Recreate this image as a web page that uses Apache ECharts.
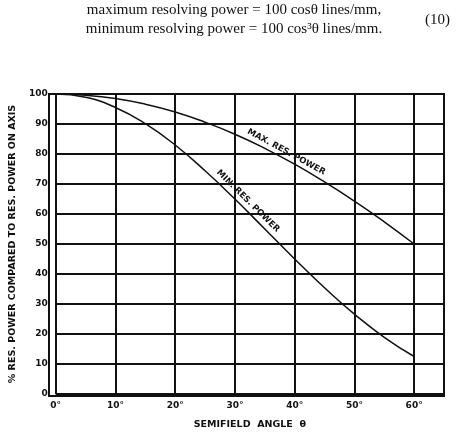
<!DOCTYPE html>
<html><head><meta charset="utf-8">
<script src="https://cdn.jsdelivr.net/npm/echarts@6/dist/echarts.min.js"></script>
<style>html,body{margin:0;padding:0;background:#fff}#c{width:468px;height:435px}</style>
</head><body><div id="c"></div>
<script>
const angles = [0,5,10,15,20,25,30,35,40,45,50,55,60];
const maxRes = [100,99.6,98.5,96.6,94,90.6,86.6,81.9,76.6,70.7,64.3,57.4,50];
const minRes = [100,98.9,95.5,90.1,83,74.4,65,55,45,35.4,26.6,18.9,12.5];
const xTicks = [0,10,20,30,40,50,60];
const yTicks = [0,10,20,30,40,50,60,70,80,90,100];
const chart = echarts.init(document.getElementById('c'));
const lbl = {fontFamily:'DejaVu Sans',fontWeight:'bold',fontSize:9,color:'#111'};
chart.setOption({
  animation:false,
  grid:{left:49,right:24,top:94,bottom:39},
  xAxis:{type:'value',min:0,max:65,interval:10,
    axisLine:{show:false},axisTick:{show:false},
    splitLine:{show:true,lineStyle:{color:'#111',width:2}},
    axisLabel:Object.assign({},lbl,{margin:7,formatter:v=>xTicks.includes(v)?v+'°':''}),
    name:'SEMIFIELD  ANGLE  θ',nameLocation:'middle',nameGap:26,
    nameTextStyle:Object.assign({},lbl,{fontSize:9.5})},
  yAxis:{type:'value',min:0,max:100,interval:10,
    axisLine:{show:false},axisTick:{show:false},
    splitLine:{show:true,lineStyle:{color:'#111',width:2}},
    axisLabel:Object.assign({},lbl,{margin:8,formatter:v=>yTicks.includes(v)?String(v):''}),
    name:'% RES. POWER COMPARED TO RES. POWER ON AXIS',nameLocation:'middle',nameGap:32,
    nameTextStyle:Object.assign({},lbl,{fontSize:9.5})},
  graphic:[
    {type:'rect',shape:{x:49,y:94,width:395,height:302},style:{fill:'none',stroke:'#111',lineWidth:2},z:10},
    {type:'text',left:'center',top:3,style:{text:'maximum resolving power = 100 cosθ lines/mm,',font:'15px "Liberation Serif"',fill:'#111'}},
    {type:'text',left:'center',top:22,style:{text:'minimum resolving power = 100 cos³θ lines/mm.',font:'15px "Liberation Serif"',fill:'#111'}},
    {type:'text',left:425,top:13,style:{text:'(10)',font:'15px "Liberation Serif"',fill:'#111'}},
    {type:'text',x:250,y:127,rotation:-0.5,style:{text:'MAX. RES. POWER',font:'bold 8.5px "DejaVu Sans"',fill:'#111'},z:20},
    {type:'text',x:221,y:168,rotation:-0.78,style:{text:'MIN. RES. POWER',font:'bold 8.5px "DejaVu Sans"',fill:'#111'},z:20}
  ],
  series:[
    {type:'line',data:angles.map((a,i)=>[a,maxRes[i]]),smooth:true,showSymbol:false,lineStyle:{color:'#111',width:1.5}},
    {type:'line',data:angles.map((a,i)=>[a,minRes[i]]),smooth:true,showSymbol:false,lineStyle:{color:'#111',width:1.5}}
  ]
});
</script></body></html>
